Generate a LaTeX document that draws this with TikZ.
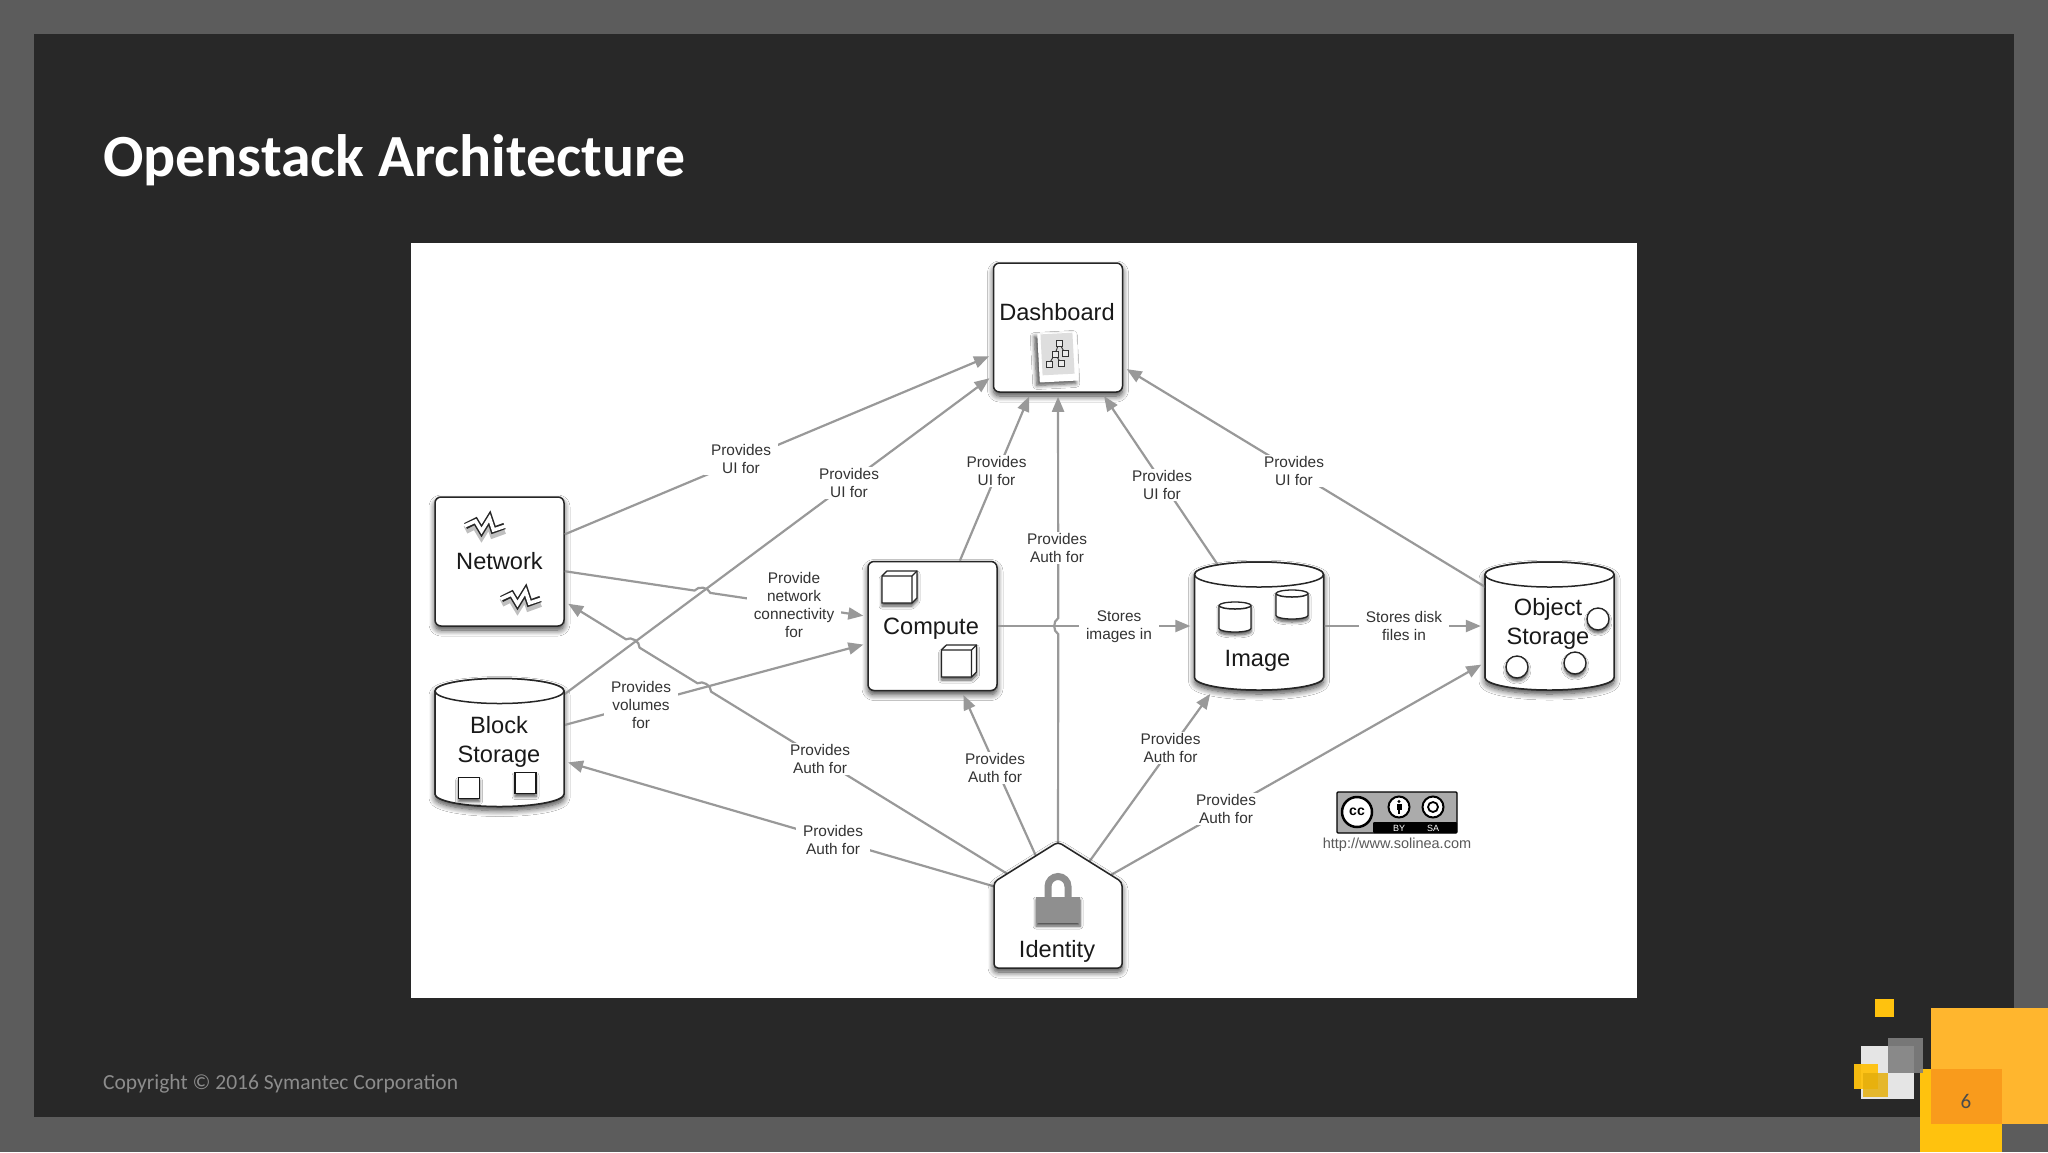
\documentclass[tikz,border=0pt]{standalone}
\usepackage{fontspec}
\setmainfont{Liberation Sans}
\newfontfamily\slidefont{Carlito}
\usetikzlibrary{arrows.meta,calc,shadows.blur}
\definecolor{slidegray}{HTML}{5C5C5C}
\definecolor{slidedark}{HTML}{282828}
\definecolor{flowgray}{HTML}{999999}
\definecolor{lockgray}{HTML}{8F8F8F}
\definecolor{tagyellow}{HTML}{FFC20E}
\definecolor{tagamber}{HTML}{FFB62E}
\definecolor{tagorange}{HTML}{F99B1C}
\tikzset{
  softshade/.style={blur shadow={shadow xshift=0pt,shadow yshift=-4pt,shadow blur radius=6pt,
    shadow blur steps=8,shadow opacity=75}},
  smallshade/.style={blur shadow={shadow xshift=0pt,shadow yshift=-3pt,shadow blur radius=3pt,
    shadow blur steps=6,shadow opacity=70}},
  boxnode/.style={draw=black!85,fill=white,line width=1.5pt,rounded corners=6pt,
    minimum width=129pt,minimum height=129pt,inner sep=0pt,softshade},
  % invisible place holders, so that arrows stop at the outline
  holdnode/.style={rectangle,minimum width=129pt,minimum height=129pt,inner sep=0pt},
  drumline/.style={draw=black!85,fill=white,line width=1.5pt},
  name text/.style={font=\fontsize{23.6}{29}\selectfont,text=black!90,align=center,inner sep=0pt},
  edge text/.style={font=\fontsize{15.4}{18}\selectfont,text=black!80,align=center,fill=white,
    inner xsep=7pt,inner ysep=1pt},
  flow/.style={draw=flowgray,line width=2.2pt,-{Triangle[length=15pt,width=12pt]},shorten >=4pt},
  minicube/.style={draw=black!85,fill=white,line width=1.3pt},
  minidisc/.style={circle,draw=black!85,fill=white,line width=1.4pt,minimum size=22pt,inner sep=0pt,smallshade},
  minisquare/.style={rectangle,draw=black!90,fill=white,line width=1.6pt,minimum size=21pt,inner sep=0pt,smallshade},
  treeleaf/.style={rectangle,draw=black!80,fill=black!8,line width=.9pt,minimum size=6pt,inner sep=0pt},
  ccring/.style={circle,draw=black,fill=white,inner sep=0pt},
}
% x, y, half width, half height, cap radius
\newcommand{\drumat}[6][]{%
  \draw[drumline,#1,shift={(#2,#3)}] (-#4,-#5) arc[start angle=180,end angle=360,x radius=#4,y radius=#6]
    -- (#4,#5) arc[start angle=0,end angle=180,x radius=#4,y radius=#6] -- cycle;
  \draw[drumline,fill=none,shift={(#2,#3)}] (-#4,-#5) arc[start angle=180,end angle=0,x radius=#4,y radius=#6];}
\begin{document}
\begin{tikzpicture}[x=1pt,y=-1pt]
  \useasboundingbox (0,0) rectangle (2048,1152);
  % slide
  \fill[slidegray] (0,0) rectangle (2048,1152);
  \fill[slidedark] (34,34) rectangle (2014,1117);
  \node (slidetitle) [anchor=base west,inner sep=0pt,text=white,font=\slidefont\bfseries\fontsize{59.8}{62}\selectfont]
    at (103,176) {Openstack Architecture};
  \node (slidefoot) [anchor=base west,inner sep=0pt,text=black!45,font=\slidefont\fontsize{21.5}{24}\selectfont]
    at (103,1089) {Copyright © 2016 Symantec Corporation};
  \fill[tagyellow] (1875,999) rectangle (1894,1017);
  \fill[tagamber] (1931,1008) rectangle (2048,1124);
  \fill[tagyellow] (1920,1069) rectangle (2002,1152);
  \fill[tagorange] (1931,1069) rectangle (2002,1124);
  \fill[black!10] (1861,1046) rectangle (1914,1099);
  \fill[black!50,opacity=.9] (1888,1038) rectangle (1923,1073);
  \fill[tagyellow,opacity=.95] (1854,1064) rectangle (1878,1089);
  \fill[tagyellow!90!black,opacity=.85] (1863,1073) rectangle (1888,1097);
  \node (slidenumber) [text=black!70,font=\slidefont\fontsize{21}{24}\selectfont,inner sep=0pt] at (1966,1101) {6};
  % picture
  \fill[white] (411,243) rectangle (1637,998);

  \node (dashboard) [boxnode] at (1058,327.5) {};
  \node (network) [boxnode] at (499.5,561.5) {};
  \node (compute) [boxnode] at (932.5,626) {};
  \node (blockstore) [holdnode] at (499.5,742.5) {};
  \node (image) [holdnode] at (1259,626) {};
  \node (objectstore) [holdnode] at (1549.5,626) {};
  \node (identity) [holdnode] at (1058,905) {};

  \drumat[softshade]{499.5}{742.5}{64.5}{51.5}{12.5}
  \drumat[softshade]{1259}{626}{64.5}{51.5}{12.5}
  \drumat[softshade]{1549.5}{626}{64.5}{51.5}{12.5}

  % crossings
  \coordinate (hopa) at (intersection of network--compute and blockstore--dashboard);
  \coordinate (hopb) at (intersection of identity--network and blockstore--dashboard);
  \coordinate (hopc) at (intersection of identity--network and blockstore--compute);
  \coordinate (hopd) at (intersection of compute--image and identity--dashboard);

  \draw[flow] (network) -- (dashboard);
  \draw[flow] (blockstore.center) -- (dashboard);
  \draw[flow] (compute) -- (dashboard);
  \draw[flow] (image.center) -- (dashboard);
  \draw[flow] (objectstore.center) -- (dashboard);
  \draw[flow] (identity.center) -- ($(hopd)!8pt!(identity)$) to[bend left=60] ($(hopd)!8pt!(dashboard)$) -- (dashboard);
  \draw[flow] (network) -- ($(hopa)!8pt!(network)$) to[bend left=60] ($(hopa)!8pt!(compute)$) -- (compute);
  \draw[flow] (blockstore.center) -- (compute);
  \draw[flow] (compute) -- (image);
  \draw[flow] (image.center) -- (objectstore);
  \draw[flow] (identity.center) -- ($(hopc)!8pt!(identity)$) to[bend right=60] ($(hopc)!8pt!(network)$)
    -- ($(hopb)!8pt!(identity)$) to[bend right=60] ($(hopb)!8pt!(network)$) -- (network);
  \draw[flow] (identity.center) -- (blockstore);
  \draw[flow] (identity.center) -- (compute);
  \draw[flow] (identity.center) -- (image);
  \draw[flow] (identity.center) -- (objectstore);

  % redrawn over the line ends
  \drumat{499.5}{742.5}{64.5}{51.5}{12.5}
  \drumat{1259}{626}{64.5}{51.5}{12.5}
  \drumat{1549.5}{626}{64.5}{51.5}{12.5}
  \draw[drumline,rounded corners=4pt,softshade] (994,882) -- (1058,842) -- (1122,882) -- (1122,968) -- (994,968) -- cycle;

  \node (dashname) [name text] at (1057,312) {Dashboard};
  \node (netname) [name text] at (499.5,561) {Network};
  \node (compname) [name text] at (931,628.5) {Compute};
  \node (blockname) [name text] at (499,742) {Block\\Storage};
  \node (imagename) [name text] at (1257.5,660.5) {Image};
  \node (objname) [name text] at (1548,624) {Object\\Storage};
  \node (idname) [name text] at (1057,951.5) {Identity};

  \node (uinet) [edge text] at (741,459) {Provides\\UI for};
  \node (uiblock) [edge text] at (849,483) {Provides\\UI for};
  \node (uicomp) [edge text] at (996.5,471) {Provides\\UI for};
  \node (authdash) [edge text] at (1057,548) {Provides\\Auth for};
  \node (uiimage) [edge text] at (1162,485) {Provides\\UI for};
  \node (uiobj) [edge text] at (1294,471) {Provides\\UI for};
  \node (netfor) [edge text] at (794,605) {Provide\\network\\connectivity\\for};
  \node (storesimg) [edge text] at (1119,626.5) {Stores\\images in};
  \node (storesdisk) [edge text] at (1404,625.5) {Stores disk\\files in};
  \node (volfor) [edge text] at (641,705) {Provides\\volumes\\for};
  \node (authnet) [edge text] at (820,759) {Provides\\Auth for};
  \node (authcomp) [edge text] at (995,768) {Provides\\Auth for};
  \node (authblock) [edge text] at (833,840) {Provides\\Auth for};
  \node (authimage) [edge text] at (1170.5,748) {Provides\\Auth for};
  \node (authobj) [edge text] at (1226,809) {Provides\\Auth for};

  % network sparks
  \foreach \sx/\sy in {484.5/526,520.5/599} {
    \draw[black,opacity=.25,line width=8pt,shift={(\sx,\sy+4)}] (-19,0) -- (-9,-5) -- (-3,5) -- (5,-8) -- (9,4) -- (20,0);
    \draw[black!85,line width=6.5pt,shift={(\sx,\sy)}] (-19,0) -- (-9,-5) -- (-3,5) -- (5,-8) -- (9,4) -- (20,0);
    \draw[white,line width=3.5pt,shift={(\sx,\sy)}] (-20,0) -- (-9,-5) -- (-3,5) -- (5,-8) -- (9,4) -- (21,0);
  }
  % compute cubes
  \foreach \cx/\cy in {882/576,941.5/650} {
    \draw[minicube,smallshade,shift={(\cx,\cy)}] (0,0) -- (5,-5) -- (35,-5) -- (35,22) -- (30,27) -- (0,27) -- cycle;
    \draw[minicube,fill=none,shift={(\cx,\cy)}] (0,0) -- (30,0) -- (30,27) (30,0) -- (35,-5);
  }
  % image drums
  \drumat[line width=1.3pt,smallshade]{1235}{617}{16}{11.5}{3.5}
  \drumat[line width=1.3pt,smallshade]{1292}{604.5}{16}{11}{3.5}
  % object discs
  \node (discone) [minidisc] at (1598,619) {};
  \node (disctwo) [minidisc] at (1517,667) {};
  \node (discthree) [minidisc] at (1575,663) {};
  % block squares
  \node (squareone) [minisquare] at (469,788) {};
  \node (squaretwo) [minisquare] at (525.5,783) {};
  % dashboard page
  \node (dashpage) [rectangle,fill=white,minimum width=39pt,minimum height=49pt,rotate=3,inner sep=0pt,
    blur shadow={shadow xshift=-3pt,shadow yshift=-3pt,shadow blur radius=4pt,shadow blur steps=6,shadow opacity=70}] at (1058,357) {};
  \node (dashinner) [rectangle,fill=black!13,minimum width=32pt,minimum height=41pt,rotate=3,inner sep=0pt] at (1057.5,354) {};
  \draw[black!80,line width=.9pt] (1059,343) -- (1055,354) -- (1049,364) (1055,354) -- (1061,363) (1059,343) -- (1065,353);
  \node (leafa) [treeleaf] at (1059,343) {};
  \node (leafb) [treeleaf] at (1055,354) {};
  \node (leafc) [treeleaf] at (1065,353) {};
  \node (leafd) [treeleaf] at (1049,364) {};
  \node (leafe) [treeleaf] at (1061,363) {};
  % lock
  \draw[lockgray,line width=7pt] (1048,900) -- (1048,886.5) arc (180:360:10) -- (1068,900);
  \fill[lockgray,smallshade] (1036,897) rectangle (1080,923);
  % licence badge
  \fill[black!33,draw=black,line width=1.2pt,rounded corners=1pt] (1337,792) rectangle (1457,833);
  \fill[black,rounded corners=1pt] (1373,822) rectangle (1457,833);
  \node (ccmark) [ccring,line width=2.5pt,minimum size=30pt,font=\bfseries\fontsize{14}{14}\selectfont] at (1357,812) {cc};
  \node (bymark) [ccring,line width=2pt,minimum size=21pt] at (1399,807) {};
  \fill[black] (1399,801.5) circle (1.6);
  \fill[black] (1396.5,804) rectangle (1401.5,810);
  \fill[black] (1398,810) rectangle (1400,814);
  \node (samark) [ccring,line width=2pt,minimum size=21pt] at (1433,807) {};
  \draw[black,line width=1.8pt] (1433,807) circle (5);
  \node (bytext) [text=white,inner sep=0pt,font=\fontsize{9}{9}\selectfont] at (1399,828) {BY};
  \node (satext) [text=white,inner sep=0pt,font=\fontsize{9}{9}\selectfont] at (1433,828) {SA};
  \node (ccurl) [text=black!65,inner sep=0pt,font=\fontsize{14.5}{16}\selectfont] at (1397,845) {http://www.solinea.com};
\end{tikzpicture}
\end{document}
